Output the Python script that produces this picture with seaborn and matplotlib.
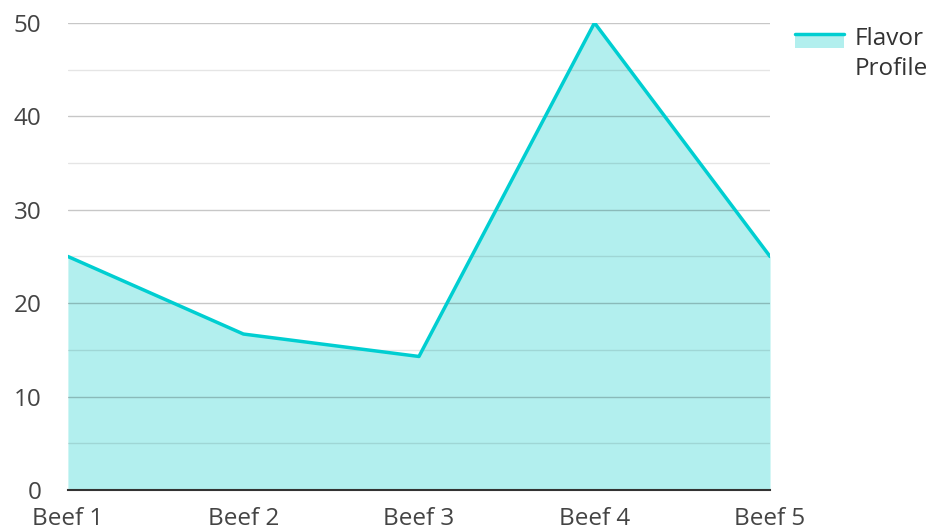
import numpy as np
import pandas as pd
import matplotlib.pyplot as plt
import seaborn as sns
from matplotlib.patches import Rectangle
from matplotlib.lines import Line2D
from matplotlib.legend_handler import HandlerBase

categories = ["Beef 1", "Beef 2", "Beef 3", "Beef 4", "Beef 5"]
flavor_profile = [25, 16.7, 14.3, 50, 25]
y_ticks = [0, 10, 20, 30, 40, 50]

df = pd.DataFrame({"beef": categories, "value": flavor_profile})
df["pos"] = np.arange(len(df))

sns.set_style("white")
plt.rcParams['font.family'] = ['Open Sans', 'DejaVu Sans']

line_color = "#00CED1"
fill_color = "#B2EFEE"


class AreaHandler(HandlerBase):
    # line on top of a filled patch, lifted to sit beside the first label line
    def create_artists(self, legend, orig_handle, xdescent, ydescent,
                       width, height, fontsize, trans):
        lift = fontsize * 0.6
        x0, y0 = -xdescent, -ydescent + lift
        h = height * 0.85
        rect = Rectangle((x0, y0), width, h,
                         facecolor=fill_color, edgecolor="none", transform=trans)
        top = y0 + h
        line = Line2D([x0, x0 + width], [top, top], color=line_color,
                      linewidth=2.5, transform=trans)
        return [rect, line]


fig = plt.figure(figsize=(9.3, 5.31), dpi=100)
ax = fig.add_axes([0.073, 0.077, 0.755, 0.88])

ax.fill_between(df["pos"], 0, df["value"], color=fill_color, zorder=1, linewidth=0)
sns.lineplot(data=df, x="pos", y="value", color=line_color, linewidth=2.5, ax=ax, zorder=3)

# grid drawn over the fill
for v in np.arange(5, 51, 10):
    ax.axhline(v, color="#000000", alpha=0.1, linewidth=1, zorder=2)
for v in np.arange(10, 51, 10):
    ax.axhline(v, color="#000000", alpha=0.22, linewidth=1, zorder=2)

ax.set_xlim(0, len(df) - 1)
ax.set_ylim(0, 50)
ax.set_xticks(df["pos"])
ax.set_xticklabels(categories)
ax.set_yticks(y_ticks)
ax.tick_params(axis="both", length=0, labelsize=17.5, colors="#444444")
ax.tick_params(axis="y", pad=19)
ax.tick_params(axis="x", pad=12)
ax.set_xlabel("")
ax.set_ylabel("")
for s in ["top", "right", "left"]:
    ax.spines[s].set_visible(False)
ax.spines["bottom"].set_color("#333333")
ax.spines["bottom"].set_linewidth(1.5)

leg = fig.legend([object()], ["Flavor\nProfile"], loc="upper left",
                 bbox_to_anchor=(0.844, 0.967), frameon=False, fontsize=17.5,
                 handlelength=2.05, handletextpad=0.4, borderaxespad=0,
                 handler_map={object: AreaHandler()}, labelcolor="#333333")
for t in leg.get_texts():
    t.set_linespacing(1.3)

fig.savefig("out.png", dpi=100)
